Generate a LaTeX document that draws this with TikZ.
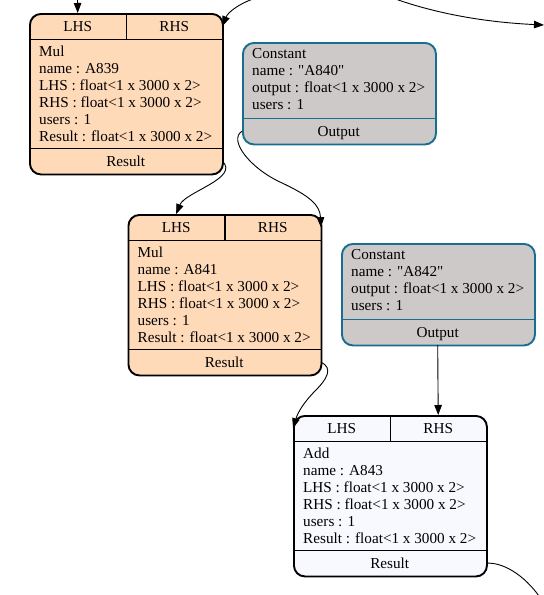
\documentclass[tikz,border=0pt]{standalone}
\usepackage{fontspec}
\setmainfont{Liberation Serif}
\usetikzlibrary{arrows.meta}
\definecolor{peach}{RGB}{255,218,185}
\definecolor{cgray}{RGB}{205,201,201}
\definecolor{cteal}{RGB}{24,110,145}
\definecolor{ghost}{RGB}{248,248,255}
\newcommand\recfont{\fontsize{15.2}{17}\selectfont}
\newcommand\qq{\textquotedbl}
\tikzset{
  recbox/.style={draw, line width=1.9pt, rounded corners=11pt, anchor=north west,
    minimum width=193pt, inner sep=0pt},
  mulrec/.style={recbox, fill=peach, minimum height=160.5pt},
  addrec/.style={recbox, fill=ghost, minimum height=160.5pt},
  constrec/.style={recbox, draw=cteal, fill=cgray, minimum height=101.5pt},
  cell/.style={inner sep=0pt, anchor=north west, text height=10pt, text depth=0pt, font=\recfont},
  hcell/.style={cell, minimum height=26pt},
  bodytxt/.style={inner sep=0pt, anchor=north west, align=left, font=\recfont},
  sepline/.style={line width=1.7pt},
  csepline/.style={line width=1.7pt, draw=cteal},
  edge/.style={line width=0.9pt, -{Triangle[length=10pt,width=7.5pt]}}
}
\begin{document}
\begin{tikzpicture}[x=1pt,y=-1pt]
\useasboundingbox (0,0) rectangle (544,595);
\fill[white] (0,0) rectangle (544,595);
\clip (0,0) rectangle (544,595);

% ---- Mul A839
\node[mulrec] (m1) at (29,13) {};
\node[hcell, minimum width=97pt] (m1l) at (29,13) {LHS};
\node[hcell, minimum width=96pt] (m1r) at (126,13) {RHS};
\node[bodytxt] (m1b) at (39,44.1) {\strut Mul\\\strut name : A839\\\strut LHS : float<1 x 3000 x 2>\\\strut RHS : float<1 x 3000 x 2>\\\strut users : 1\\\strut Result : float<1 x 3000 x 2>};
\node[cell, minimum width=193pt, minimum height=25pt] (m1o) at (29,148.5) {Result};
\draw[sepline] (m1l.south west) -- (m1r.south east);
\draw[sepline] (m1l.north east) -- (m1l.south east);
\draw[sepline] (m1o.north west) -- (m1o.north east);

% ---- Constant A840
\node[constrec] (c1) at (242,42) {};
\node[bodytxt] (c1b) at (252,46.6) {\strut Constant\\\strut name : \qq A840\qq\\\strut output : float<1 x 3000 x 2>\\\strut users : 1};
\node[cell, minimum width=193pt, minimum height=25pt] (c1o) at (242,118.5) {Output};
\draw[csepline] (c1o.north west) -- (c1o.north east);

% ---- Mul A841
\node[mulrec] (m2) at (127.5,214) {};
\node[hcell, minimum width=97pt] (m2l) at (127.5,214) {LHS};
\node[hcell, minimum width=96pt] (m2r) at (224.5,214) {RHS};
\node[bodytxt] (m2b) at (137.5,245.1) {\strut Mul\\\strut name : A841\\\strut LHS : float<1 x 3000 x 2>\\\strut RHS : float<1 x 3000 x 2>\\\strut users : 1\\\strut Result : float<1 x 3000 x 2>};
\node[cell, minimum width=193pt, minimum height=25pt] (m2o) at (127.5,349.5) {Result};
\draw[sepline] (m2l.south west) -- (m2r.south east);
\draw[sepline] (m2l.north east) -- (m2l.south east);
\draw[sepline] (m2o.north west) -- (m2o.north east);

% ---- Constant A842
\node[constrec] (c2) at (341,243) {};
\node[bodytxt] (c2b) at (351,247.6) {\strut Constant\\\strut name : \qq A842\qq\\\strut output : float<1 x 3000 x 2>\\\strut users : 1};
\node[cell, minimum width=193pt, minimum height=25pt] (c2o) at (341,319.5) {Output};
\draw[csepline] (c2o.north west) -- (c2o.north east);

% ---- Add A843
\node[addrec] (m3) at (293,415) {};
\node[hcell, minimum width=97pt] (m3l) at (293,415) {LHS};
\node[hcell, minimum width=96pt] (m3r) at (390,415) {RHS};
\node[bodytxt] (m3b) at (303,446.1) {\strut Add\\\strut name : A843\\\strut LHS : float<1 x 3000 x 2>\\\strut RHS : float<1 x 3000 x 2>\\\strut users : 1\\\strut Result : float<1 x 3000 x 2>};
\node[cell, minimum width=193pt, minimum height=25pt] (m3o) at (293,550.5) {Result};
\draw[sepline] (m3l.south west) -- (m3r.south east);
\draw[sepline] (m3l.north east) -- (m3l.south east);
\draw[sepline] (m3o.north west) -- (m3o.north east);

% ---- free ends
\coordinate (in1) at (77.5,-2);
\coordinate (in2) at (256,-2);
\coordinate (s3) at (390,-3);
\coordinate (t3) at (544,25);
\coordinate (t8) at (548,610);

% ---- connectors
\draw[edge] (in1) -- (m1l.north);
\draw[edge] (in2) .. controls (240,3) and (228,12) .. (m1r.east);
\draw[edge] (s3) .. controls (430,12) and (480,22) .. (t3);
\draw[edge] (m1o.east) .. controls (240,178) and (185,192) .. (m2l.north);
\draw[edge] (c1o.west) .. controls (228,140) and (250,168) .. (280,182) .. controls (310,196) and (320,205) .. (m2r.east);
\draw[edge] (m2o.east) .. controls (334,368) and (326,380) .. (316,390) .. controls (304,402) and (298,412) .. (m3l.west);
\draw[edge] (c2o.south) -- (m3r.north);
\draw[edge] (m3o.east) .. controls (505,562) and (528,578) .. (t8);
\end{tikzpicture}
\end{document}
